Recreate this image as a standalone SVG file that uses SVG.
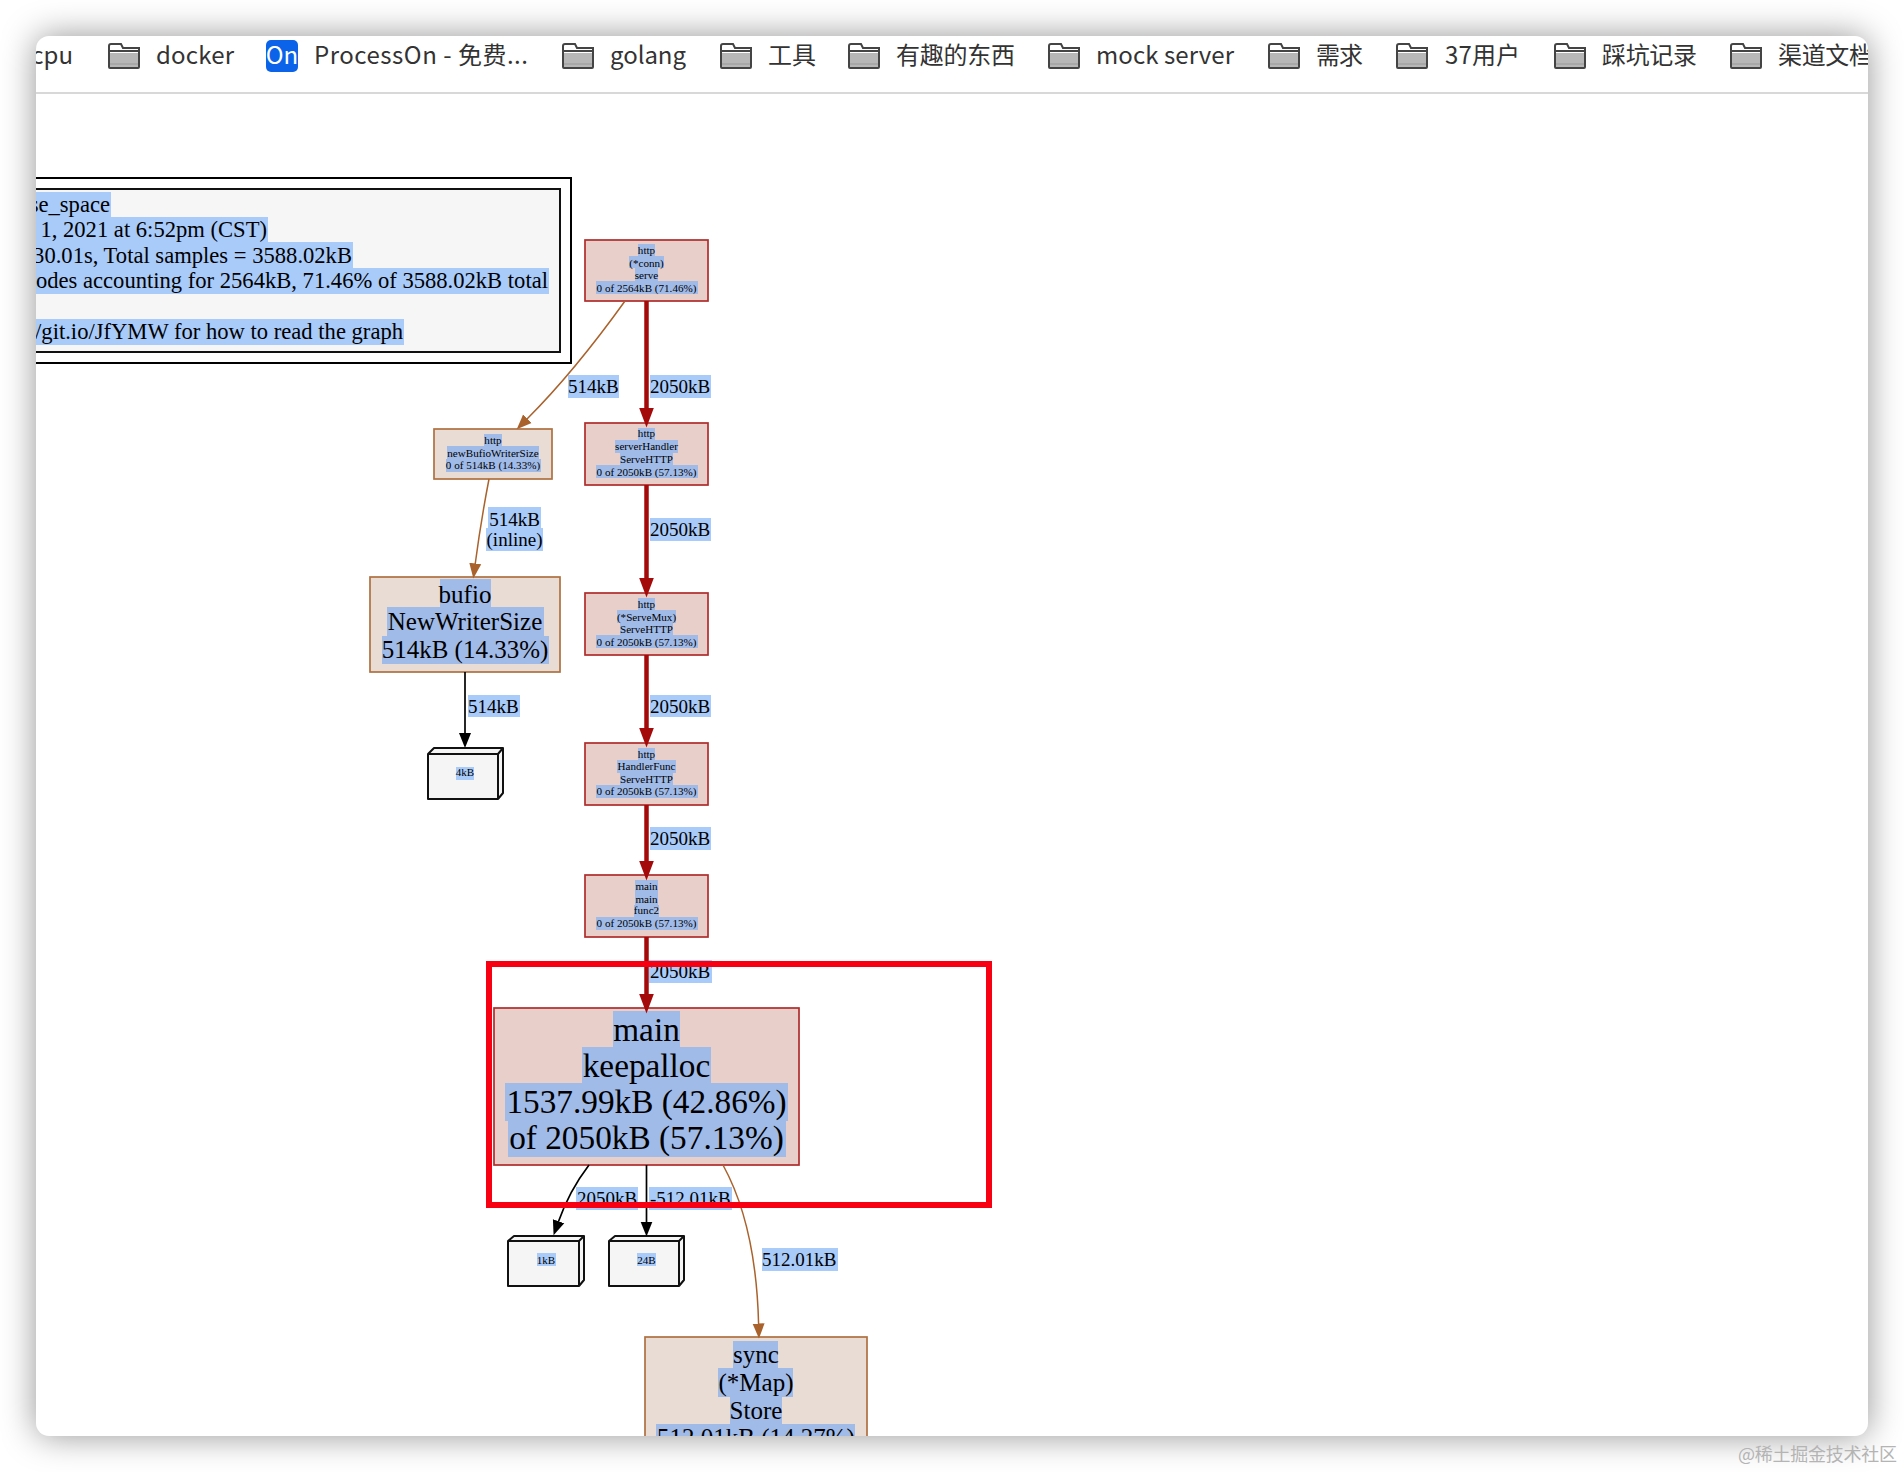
<svg xmlns="http://www.w3.org/2000/svg" width="1904" height="1472" viewBox="0 0 1904 1472">
<style>
text{font-family:"Liberation Serif","Noto Sans CJK SC",serif;fill:#000;text-anchor:middle}
.tb{font-family:"Noto Sans CJK SC",sans-serif;font-size:24px;fill:#333;text-anchor:start}
.leg{font-size:22.6px;text-anchor:end}
.s{font-size:11.1px}.m{font-size:25px}.l{font-size:33.3px}.e{font-size:19px;text-anchor:start}
.hl{fill:#a9cbfa}.hn{fill:#a0bbe8}
.r{fill:#e9cfca;stroke:#b02c2c;stroke-width:1.7}
.b{fill:#e8dcd4;stroke:#b07040;stroke-width:1.7}
.cr{fill:none;stroke:#a50a0a;stroke-width:4.5}
.cb{fill:none;stroke:#a9622c;stroke-width:1.5}
.ck{fill:none;stroke:#000;stroke-width:1.7}
.box{fill:#f5f5f5;stroke:#111;stroke-width:2;stroke-linejoin:round}
</style>
<defs>
<filter id="sh" x="-10%" y="-10%" width="120%" height="120%"><feGaussianBlur stdDeviation="17"/></filter>
<clipPath id="win"><rect x="36" y="36" width="1832" height="1400" rx="13"/></clipPath>
<marker id="ar" markerUnits="userSpaceOnUse" markerWidth="21" markerHeight="16" refX="0.5" refY="8" orient="auto"><path d="M0,0.5L20,8L0,15.5Z" fill="#a50a0a"/></marker>
<marker id="ab" markerUnits="userSpaceOnUse" markerWidth="16" markerHeight="13" refX="0.5" refY="6.5" orient="auto"><path d="M0,0.5L15,6.5L0,12.5Z" fill="#a9622c"/></marker>
<marker id="ak" markerUnits="userSpaceOnUse" markerWidth="16" markerHeight="14" refX="0.5" refY="6.5" orient="auto"><path d="M0,0.5L15,6.5L0,12.5Z" fill="#000"/></marker>
<g id="fd"><path d="M1,5V3Q1,1 3,1H13L15,5H31V24Q31,25 30,25H2Q1,25 1,24Z" fill="#fff" stroke="#444" stroke-width="2"/><path d="M2,10H30V24H2Z" fill="#b7b7b7"/><path d="M1,8H31" stroke="#444" stroke-width="2"/><path d="M2,21H30" stroke="#999" stroke-width="1"/></g>
</defs>
<rect width="1904" height="1472" fill="#fff"/>
<rect x="36" y="36" width="1832" height="1400" rx="13" fill="#000" fill-opacity=".42" filter="url(#sh)"/>
<g clip-path="url(#win)">
<rect x="36" y="36" width="1832" height="1400" fill="#fff"/>
<g id="toolbar">
<rect x="36" y="92" width="1832" height="2" fill="#d8d8d8"/>
<text class="tb" x="73" y="64" style="text-anchor:end">cpu</text>
<use href="#fd" x="108" y="43"/><text class="tb" x="156" y="64" textLength="78">docker</text>
<rect x="266" y="40" width="32" height="32" rx="5" fill="#0a63e8"/><text class="tb" x="282" y="64" style="fill:#fff;text-anchor:middle">On</text>
<text class="tb" x="314" y="64" textLength="214">ProcessOn - 免费...</text>
<use href="#fd" x="562" y="43"/><text class="tb" x="610" y="64" textLength="76">golang</text>
<use href="#fd" x="720" y="43"/><text class="tb" x="768" y="64" textLength="48">工具</text>
<use href="#fd" x="848" y="43"/><text class="tb" x="896" y="64" textLength="119">有趣的东西</text>
<use href="#fd" x="1048" y="43"/><text class="tb" x="1096" y="64" textLength="138">mock server</text>
<use href="#fd" x="1268" y="43"/><text class="tb" x="1316" y="64" textLength="47">需求</text>
<use href="#fd" x="1396" y="43"/><text class="tb" x="1445" y="64" textLength="75">37用户</text>
<use href="#fd" x="1554" y="43"/><text class="tb" x="1602" y="64" textLength="95">踩坑记录</text>
<use href="#fd" x="1730" y="43"/><text class="tb" x="1778" y="64" textLength="95">渠道文档</text>
</g>
<g id="legend">
<rect x="20" y="178" width="551" height="185" fill="#fff" stroke="#000" stroke-width="2"/>
<rect x="20" y="189" width="540" height="163" fill="#f6f6f6" stroke="#111" stroke-width="2"/>
<rect class="hl" x="36" y="192" width="75" height="25"/><rect class="hl" x="36" y="217" width="232" height="25"/><rect class="hl" x="36" y="242" width="317" height="26"/><rect class="hl" x="36" y="268" width="513" height="26"/><rect class="hl" x="36" y="319" width="368" height="26"/>
<text class="leg" x="110" y="212">se_space</text>
<text class="leg" x="267" y="237">6 1, 2021 at 6:52pm (CST)</text>
<text class="leg" x="352" y="263">30.01s, Total samples = 3588.02kB</text>
<text class="leg" x="548" y="288">nodes accounting for 2564kB, 71.46% of 3588.02kB total</text>
<text class="leg" x="403" y="339">//git.io/JfYMW for how to read the graph</text>
</g>
<g id="n-conn"><rect class="r" x="585" y="240" width="123" height="61"/>
<rect class="hn" x="638" y="244" width="17" height="12"/><rect class="hn" x="629" y="256" width="35" height="12"/><rect class="hn" x="635" y="268" width="23" height="13"/><rect class="hn" x="596" y="281" width="102" height="13"/>
<text class="s" x="646.5" y="254">http</text><text class="s" x="646.5" y="267">(*conn)</text><text class="s" x="646.5" y="279">serve</text><text class="s" x="646.5" y="292">0 of 2564kB (71.46%)</text></g>
<g id="n-handler"><rect class="r" x="585" y="423" width="123" height="62"/>
<rect class="hn" x="638" y="428" width="17" height="12"/><rect class="hn" x="615" y="440" width="63" height="13"/><rect class="hn" x="620" y="453" width="53" height="12"/><rect class="hn" x="596" y="465" width="102" height="13"/>
<text class="s" x="646.5" y="437">http</text><text class="s" x="646.5" y="450">serverHandler</text><text class="s" x="646.5" y="463">ServeHTTP</text><text class="s" x="646.5" y="476">0 of 2050kB (57.13%)</text></g>
<g id="n-newbufio"><rect class="b" x="434" y="429" width="118" height="50"/>
<rect class="hn" x="484" y="434" width="18" height="12"/><rect class="hn" x="447" y="446" width="92" height="13"/><rect class="hn" x="446" y="459" width="95" height="13"/>
<text class="s" x="493" y="444">http</text><text class="s" x="493" y="457">newBufioWriterSize</text><text class="s" x="493" y="469">0 of 514kB (14.33%)</text></g>
<g id="n-bufio"><rect class="b" x="370" y="577" width="190" height="95"/>
<rect class="hn" x="440" y="579" width="51" height="28"/><rect class="hn" x="387" y="607" width="157" height="29"/><rect class="hn" x="382" y="636" width="167" height="28"/>
<text class="m" x="465" y="603">bufio</text><text class="m" x="465" y="630">NewWriterSize</text><text class="m" x="465" y="658">514kB (14.33%)</text></g>
<g id="n-mux"><rect class="r" x="585" y="593" width="123" height="62"/>
<rect class="hn" x="638" y="598" width="17" height="12"/><rect class="hn" x="617" y="610" width="59" height="13"/><rect class="hn" x="620" y="623" width="53" height="12"/><rect class="hn" x="596" y="635" width="102" height="13"/>
<text class="s" x="646.5" y="608">http</text><text class="s" x="646.5" y="621">(*ServeMux)</text><text class="s" x="646.5" y="633">ServeHTTP</text><text class="s" x="646.5" y="646">0 of 2050kB (57.13%)</text></g>
<g id="n-func"><rect class="r" x="585" y="743" width="123" height="62"/>
<rect class="hn" x="638" y="748" width="17" height="12"/><rect class="hn" x="617" y="760" width="59" height="13"/><rect class="hn" x="620" y="773" width="53" height="12"/><rect class="hn" x="596" y="785" width="102" height="13"/>
<text class="s" x="646.5" y="758">http</text><text class="s" x="646.5" y="770">HandlerFunc</text><text class="s" x="646.5" y="783">ServeHTTP</text><text class="s" x="646.5" y="795">0 of 2050kB (57.13%)</text></g>
<g id="n-4kB"><path class="box" d="M428,754H498V799H428ZM428,754L434,748H503V793L498,799M498,754L503,748"/>
<rect class="hl" x="456" y="767" width="18" height="13"/><text class="s" x="465" y="776">4kB</text></g>
<g id="n-func2"><rect class="r" x="585" y="875" width="123" height="62"/>
<rect class="hn" x="635" y="880" width="23" height="12"/><rect class="hn" x="635" y="892" width="23" height="13"/><rect class="hn" x="634" y="905" width="25" height="12"/><rect class="hn" x="596" y="917" width="102" height="13"/>
<text class="s" x="646.5" y="890">main</text><text class="s" x="646.5" y="903">main</text><text class="s" x="646.5" y="914">func2</text><text class="s" x="646.5" y="927">0 of 2050kB (57.13%)</text></g>
<g id="n-keepalloc"><rect class="r" x="494" y="1008" width="305" height="157"/>
<rect class="hn" x="613" y="1011" width="67" height="36"/><rect class="hn" x="582" y="1047" width="129" height="36"/><rect class="hn" x="505" y="1083" width="283" height="38"/><rect class="hn" x="508" y="1121" width="278" height="36"/>
<text class="l" x="646.5" y="1041">main</text><text class="l" x="646.5" y="1077">keepalloc</text><text class="l" x="646.5" y="1113">1537.99kB (42.86%)</text><text class="l" x="646.5" y="1149">of 2050kB (57.13%)</text></g>
<g id="n-1kB"><path class="box" d="M508,1241H579V1286H508ZM508,1241L514,1236H584V1280L579,1286M579,1241L584,1236"/>
<rect class="hl" x="537" y="1253" width="19" height="13"/><text class="s" x="546" y="1264">1kB</text></g>
<g id="n-24B"><path class="box" d="M609,1241H679V1286H609ZM609,1241L615,1236H684V1280L679,1286M679,1241L684,1236"/>
<rect class="hl" x="637" y="1253" width="19" height="13"/><text class="s" x="646.5" y="1264">24B</text></g>
<g id="n-sync"><rect class="b" x="645" y="1337" width="222" height="120"/>
<rect class="hn" x="733" y="1341" width="45" height="27"/><rect class="hn" x="718" y="1368" width="75" height="29"/><rect class="hn" x="730" y="1397" width="52" height="27"/><rect class="hn" x="656" y="1424" width="199" height="28"/>
<text class="m" x="756" y="1363">sync</text><text class="m" x="756" y="1391">(*Map)</text><text class="m" x="756" y="1419">Store</text><text class="m" x="756" y="1446">512.01kB (14.27%)</text></g>
<g id="connectors">
<path class="cb" d="M625,301C597,340 565,381 527,419" marker-end="url(#ab)"/>
<path class="cr" d="M646.5,301V408" marker-end="url(#ar)"/>
<path class="cr" d="M646.5,485V578" marker-end="url(#ar)"/>
<path class="cr" d="M646.5,655V728" marker-end="url(#ar)"/>
<path class="cr" d="M646.5,805V861" marker-end="url(#ar)"/>
<path class="cr" d="M646.5,937V994" marker-end="url(#ar)"/>
<path class="cb" d="M489,479C484,505 479,535 475.2,564" marker-end="url(#ab)"/>
<path class="ck" d="M465,672V733.5" marker-end="url(#ak)"/>
<path class="ck" d="M589,1165C573,1186 565,1203 558.4,1221.7" marker-end="url(#ak)"/>
<path class="ck" d="M646.5,1165V1222" marker-end="url(#ak)"/>
<path class="cb" d="M723,1165C745,1205 757,1260 758.6,1324" marker-end="url(#ab)"/>
</g>
<g id="edge-labels">
<rect class="hl" x="568" y="375" width="51" height="23"/><text class="e" x="568" y="392.5">514kB</text>
<rect class="hl" x="650" y="375" width="61" height="23"/><text class="e" x="650" y="392.5">2050kB</text>
<rect class="hl" x="650" y="518" width="61" height="23"/><text class="e" x="650" y="536">2050kB</text>
<rect class="hl" x="488" y="507" width="53" height="21"/><rect class="hl" x="486" y="528" width="57" height="23"/><text class="e" x="514.5" y="525.5" style="text-anchor:middle">514kB</text><text class="e" x="514.5" y="546" style="text-anchor:middle">(inline)</text>
<rect class="hl" x="468" y="695" width="52" height="22"/><text class="e" x="468" y="713">514kB</text>
<rect class="hl" x="650" y="695" width="61" height="22"/><text class="e" x="650" y="713">2050kB</text>
<rect class="hl" x="650" y="827" width="61" height="23"/><text class="e" x="650" y="845">2050kB</text>
<rect class="hl" x="649" y="960" width="63" height="23"/><text class="e" x="650" y="978">2050kB</text>
<rect class="hl" x="576" y="1187" width="62" height="23"/><text class="e" x="577" y="1204.5">2050kB</text>
<rect class="hl" x="649" y="1187" width="83" height="23"/><text class="e" x="650" y="1204.5">-512.01kB</text>
<rect class="hl" x="762" y="1248" width="76" height="23"/><text class="e" x="762" y="1266">512.01kB</text>
</g>
<rect id="highlight" x="489" y="964" width="500" height="241" fill="none" stroke="#f80012" stroke-width="6"/>
</g>
<text x="1738" y="1461" style="font-family:'Noto Sans CJK SC',sans-serif;font-size:18px;fill:#b4b4b4;text-anchor:start" textLength="159">@稀土掘金技术社区</text>
</svg>
